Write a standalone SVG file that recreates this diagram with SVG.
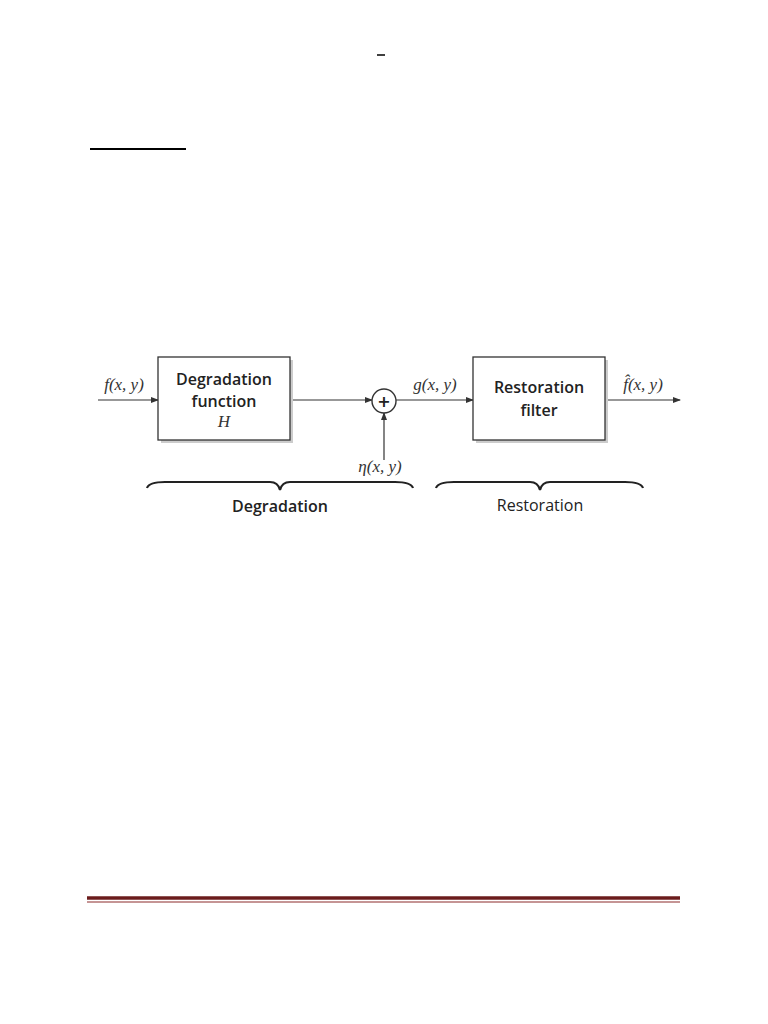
<svg xmlns="http://www.w3.org/2000/svg" width="768" height="1024" viewBox="0 0 768 1024">
<style>
.ln{stroke:#333;stroke-width:1.2;fill:none}
.box{fill:#fff;stroke:#333;stroke-width:1.3}
.sh{fill:#ccc}
.b{font-family:"Open Sans","DejaVu Sans",sans-serif;font-size:16px;font-weight:600;fill:#222;text-anchor:middle}
.m{font-family:"Liberation Serif",serif;font-size:17px;font-style:italic;fill:#333;text-anchor:middle}
.l{font-family:"Open Sans","DejaVu Sans",sans-serif;font-size:16px;fill:#222;text-anchor:middle}
</style>
<defs><marker id="ar" markerWidth="8" markerHeight="6" refX="7" refY="3" orient="auto" markerUnits="userSpaceOnUse"><path d="M0,0L8,3L0,6z" fill="#333"/></marker></defs>
<rect width="768" height="1024" fill="#fff"/>
<line x1="377" y1="55" x2="385" y2="55" stroke="#000" stroke-width="1.5"/>
<line x1="90" y1="149" x2="186" y2="149" stroke="#000" stroke-width="2"/>
<g id="connectors">
<line class="ln" x1="98" y1="400" x2="158" y2="400" marker-end="url(#ar)"/>
<line class="ln" x1="290" y1="400" x2="372" y2="400" marker-end="url(#ar)"/>
<line class="ln" x1="396" y1="400" x2="473" y2="400" marker-end="url(#ar)"/>
<line class="ln" x1="605" y1="400" x2="680" y2="400" marker-end="url(#ar)"/>
<line class="ln" x1="384" y1="460" x2="384" y2="413" marker-end="url(#ar)" stroke="#777"/>
</g>
<g id="degradation-function">
<rect class="sh" x="161" y="360" width="132" height="83"/>
<rect class="box" x="158" y="357" width="132" height="83"/>
<text class="b" x="224" y="385">Degradation</text>
<text class="b" x="224" y="407">function</text>
<text class="m" x="224" y="427">H</text>
</g>
<g id="restoration-filter">
<rect class="sh" x="476" y="360" width="132" height="83"/>
<rect class="box" x="473" y="357" width="132" height="83"/>
<text class="b" x="539" y="393">Restoration</text>
<text class="b" x="539" y="416">filter</text>
</g>
<g id="sum">
<circle cx="384" cy="401" r="12" fill="#fff" stroke="#333" stroke-width="1.4"/>
<text x="384" y="407" font-family="DejaVu Sans,sans-serif" font-size="16" font-weight="bold" text-anchor="middle" fill="#222">+</text>
</g>
<text class="m" x="124" y="390">f(x, y)</text>
<text class="m" x="435" y="390">g(x, y)</text>
<text class="m" x="643" y="390">f̂(x, y)</text>
<text class="m" x="380" y="472">η(x, y)</text>
<g id="braces" fill="none" stroke="#222" stroke-width="2.2">
<path d="M147,488 Q149,482 165,482 L270,482 Q278,482 280,490 Q282,482 290,482 L395,482 Q411,482 413,488"/>
<path d="M436,488 Q438,482 454,482 L530,482 Q538,482 540,490 Q542,482 550,482 L625,482 Q641,482 643,488"/>
</g>
<text class="b" x="280" y="512">Degradation</text>
<text class="l" x="540" y="511">Restoration</text>
<line x1="87" y1="898" x2="680" y2="898" stroke="#6b1c1c" stroke-width="3.5"/>
<line x1="87" y1="902" x2="680" y2="902" stroke="#8b2b2b" stroke-width="1"/>
</svg>
